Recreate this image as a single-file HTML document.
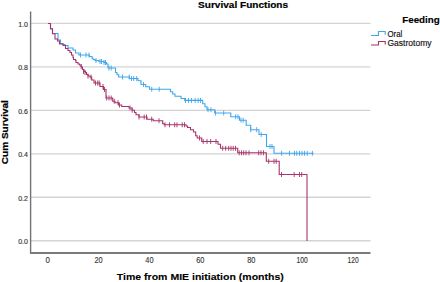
<!DOCTYPE html>
<html><head><meta charset="utf-8"><style>
html,body{margin:0;padding:0;background:#fff;width:440px;height:282px;overflow:hidden;}
svg{display:block;}
</style></head><body>
<svg width="440" height="282" viewBox="0 0 440 282"><rect width="440" height="282" fill="#fff"/><line x1="31" y1="23.4" x2="370.5" y2="23.4" stroke="#d4d4d4" stroke-width="1.4"/><line x1="31" y1="66.9" x2="370.5" y2="66.9" stroke="#d4d4d4" stroke-width="1.4"/><line x1="31" y1="110.4" x2="370.5" y2="110.4" stroke="#d4d4d4" stroke-width="1.4"/><line x1="31" y1="153.9" x2="370.5" y2="153.9" stroke="#d4d4d4" stroke-width="1.4"/><line x1="31" y1="197.3" x2="370.5" y2="197.3" stroke="#d4d4d4" stroke-width="1.4"/><line x1="31" y1="240.8" x2="370.5" y2="240.8" stroke="#d4d4d4" stroke-width="1.4"/><line x1="30.6" y1="11.5" x2="30.6" y2="254" stroke="#727272" stroke-width="1.4"/><line x1="30" y1="253" x2="370.5" y2="253" stroke="#7a7a7a" stroke-width="2"/><text x="28" y="26.85" font-family="Liberation Sans, sans-serif" font-size="7.4" fill="#333" stroke="#333" stroke-width="0.15" text-anchor="end" textLength="9.8" lengthAdjust="spacingAndGlyphs">1.0</text><text x="28" y="70.35" font-family="Liberation Sans, sans-serif" font-size="7.4" fill="#333" stroke="#333" stroke-width="0.15" text-anchor="end" textLength="9.8" lengthAdjust="spacingAndGlyphs">0.8</text><text x="28" y="113.85" font-family="Liberation Sans, sans-serif" font-size="7.4" fill="#333" stroke="#333" stroke-width="0.15" text-anchor="end" textLength="9.8" lengthAdjust="spacingAndGlyphs">0.6</text><text x="28" y="157.35" font-family="Liberation Sans, sans-serif" font-size="7.4" fill="#333" stroke="#333" stroke-width="0.15" text-anchor="end" textLength="9.8" lengthAdjust="spacingAndGlyphs">0.4</text><text x="28" y="200.75" font-family="Liberation Sans, sans-serif" font-size="7.4" fill="#333" stroke="#333" stroke-width="0.15" text-anchor="end" textLength="9.8" lengthAdjust="spacingAndGlyphs">0.2</text><text x="28" y="244.25" font-family="Liberation Sans, sans-serif" font-size="7.4" fill="#333" stroke="#333" stroke-width="0.15" text-anchor="end" textLength="9.8" lengthAdjust="spacingAndGlyphs">0.0</text><text x="47.60" y="262.9" font-family="Liberation Sans, sans-serif" font-size="8.2" fill="#333" stroke="#333" stroke-width="0.12" text-anchor="middle" textLength="4.4" lengthAdjust="spacingAndGlyphs">0</text><text x="98.52" y="262.9" font-family="Liberation Sans, sans-serif" font-size="8.2" fill="#333" stroke="#333" stroke-width="0.12" text-anchor="middle" textLength="8.2" lengthAdjust="spacingAndGlyphs">20</text><text x="149.44" y="262.9" font-family="Liberation Sans, sans-serif" font-size="8.2" fill="#333" stroke="#333" stroke-width="0.12" text-anchor="middle" textLength="8.2" lengthAdjust="spacingAndGlyphs">40</text><text x="200.36" y="262.9" font-family="Liberation Sans, sans-serif" font-size="8.2" fill="#333" stroke="#333" stroke-width="0.12" text-anchor="middle" textLength="8.2" lengthAdjust="spacingAndGlyphs">60</text><text x="251.28" y="262.9" font-family="Liberation Sans, sans-serif" font-size="8.2" fill="#333" stroke="#333" stroke-width="0.12" text-anchor="middle" textLength="8.2" lengthAdjust="spacingAndGlyphs">80</text><text x="302.20" y="262.9" font-family="Liberation Sans, sans-serif" font-size="8.2" fill="#333" stroke="#333" stroke-width="0.12" text-anchor="middle" textLength="11.2" lengthAdjust="spacingAndGlyphs">100</text><text x="353.12" y="262.9" font-family="Liberation Sans, sans-serif" font-size="8.2" fill="#333" stroke="#333" stroke-width="0.12" text-anchor="middle" textLength="11.2" lengthAdjust="spacingAndGlyphs">120</text><path d="M48,23.5 H50.5 V29 H52.5 V33.5 H58 V40 H60.5 V43.5 H63 V44.5 H65 V45.5 H68 V48 H73 V50 H75.5 V53 H79 V55 H89.5 V56.5 H92 V58 H93 V59.5 H95 V60.5 H99 V61.5 H104 V62.5 H106.5 V64 H108 V68 H115.5 V72.5 H117 V74.7 H118.7 V77 H129.5 V78.5 H138 V80.7 H141 V84.5 H145.7 V86.7 H149.5 V89.3 H170.5 V91.7 H172.7 V94 H175 V96.2 H181 V98.5 H184.7 V100.4 H202.7 V103.7 H205 V106.7 H207 V109.7 H214.7 V113 H230.8 V116.8 H239.5 V120.2 H246.2 V125.2 H250.7 V129.7 H259 V134.5 H266.5 V146.5 H274 V153.3 H313.7" fill="none" stroke="#3ea6ee" stroke-width="1.1"/><path d="M80.5,52.5 V57.5 M86,52.5 V57.5 M89,52.5 V57.5 M96,58.0 V63.0 M100,59.0 V64.0 M101.5,59.0 V64.0 M104,60.0 V65.0 M105.5,60.0 V65.0 M109,65.5 V70.5 M111.2,65.5 V70.5 M122.5,74.5 V79.5 M129.2,74.5 V79.5 M131.5,76.0 V81.0 M133.7,76.0 V81.0 M136.7,76.0 V81.0 M143.5,82.0 V87.0 M151.7,86.8 V91.8 M159.2,86.8 V91.8 M185.5,97.9 V102.9 M188.5,97.9 V102.9 M191.5,97.9 V102.9 M195.2,97.9 V102.9 M198.2,97.9 V102.9 M200.5,97.9 V102.9 M208,107.2 V112.2 M211,107.2 V112.2 M215.5,110.5 V115.5 M223.7,110.5 V115.5 M235.7,114.3 V119.3 M238,114.3 V119.3 M241,117.7 V122.7 M243.2,117.7 V122.7 M250.7,127.19999999999999 V132.2 M256.7,127.19999999999999 V132.2 M261.2,132.0 V137.0 M270,144.0 V149.0 M272,144.0 V149.0 M281.6,150.8 V155.8 M289.4,150.8 V155.8 M294.5,150.8 V155.8 M296.75,150.8 V155.8 M299.5,150.8 V155.8 M302,150.8 V155.8 M304.5,150.8 V155.8 M307.25,150.8 V155.8 M312.4,150.8 V155.8" fill="none" stroke="#3ea6ee" stroke-width="0.9"/><path d="M48,23.5 H50.5 V28.7 H52.5 V33.7 H55 V39 H57.5 V41 H59.5 V44 H63 V45.5 H65.5 V48.5 H68 V50.5 H70 V52.5 H71.5 V55 H73 V57.5 H73.5 V59.5 H75.5 V60.5 H76 V62.5 H78 V64 H79.5 V65 H81 V66.5 H82 V67.5 H82.5 V69.5 H84 V71.5 H85.5 V72.5 H86.5 V74.5 H88 V76 H90 V77 H91.7 V80 H94 V83 H100 V86.5 H103.5 V89.5 H106 V98 H112.7 V101.2 H115 V102.7 H118.7 V105 H121.7 V106.5 H129 V108 H132 V110.2 H134.5 V112.5 H136 V114.7 H139 V117 H147 V119.2 H153.2 V120.7 H162.7 V123.7 H164.2 V124.8 H186 V126 H187.5 V127.5 H190.5 V129.7 H193.5 V132 H195.7 V135.7 H197.2 V138 H201.7 V141.5 H218 V144.2 H220.5 V148.3 H237.7 V152.8 H266.3 V161.3 H279.2 V174.5 H307 V241" fill="none" stroke="#a8336a" stroke-width="1.1"/><path d="M81.2,64.0 V69.0 M83.5,69.0 V74.0 M85,70.0 V75.0 M88,73.5 V78.5 M91,74.5 V79.5 M95.5,80.5 V85.5 M97.7,80.5 V85.5 M99.2,80.5 V85.5 M103,84.0 V89.0 M104.5,87.0 V92.0 M106.7,95.5 V100.5 M109,95.5 V100.5 M111.2,95.5 V100.5 M114.2,98.7 V103.7 M118,100.2 V105.2 M119.5,102.5 V107.5 M130,105.5 V110.5 M132.2,107.7 V112.7 M139,114.5 V119.5 M144.2,114.5 V119.5 M146.5,114.5 V119.5 M151.7,116.7 V121.7 M159,118.2 V123.2 M165,122.3 V127.3 M169.5,122.3 V127.3 M174.7,122.3 V127.3 M177,122.3 V127.3 M182.2,122.3 V127.3 M184.5,122.3 V127.3 M199.5,135.5 V140.5 M203.2,139.0 V144.0 M207,139.0 V144.0 M210.7,139.0 V144.0 M216,139.0 V144.0 M222.7,145.8 V150.8 M225.7,145.8 V150.8 M228.7,145.8 V150.8 M231,145.8 V150.8 M233.2,145.8 V150.8 M235.5,145.8 V150.8 M239.2,150.3 V155.3 M241.5,150.3 V155.3 M243.7,150.3 V155.3 M246,150.3 V155.3 M249,150.3 V155.3 M258.7,150.3 V155.3 M261,150.3 V155.3 M263.5,150.3 V155.3 M268.7,158.8 V163.8 M274,158.8 V163.8 M276.2,158.8 V163.8 M281.5,172.0 V177.0 M294.2,172.0 V177.0 M299.5,172.0 V177.0 M301.7,172.0 V177.0" fill="none" stroke="#a8336a" stroke-width="0.9"/><text x="243.1" y="8.1" font-family="Liberation Sans, sans-serif" font-size="9.8" font-weight="bold" fill="#000" stroke="#000" stroke-width="0.2" text-anchor="middle" textLength="90" lengthAdjust="spacingAndGlyphs">Survival Functions</text><text x="0" y="0" transform="translate(8.1,132.15) rotate(-90)" font-family="Liberation Sans, sans-serif" font-size="9.6" font-weight="bold" fill="#000" stroke="#000" stroke-width="0.2" text-anchor="middle" textLength="64" lengthAdjust="spacingAndGlyphs">Cum Survival</text><text x="200.3" y="279.9" font-family="Liberation Sans, sans-serif" font-size="9.6" font-weight="bold" fill="#000" stroke="#000" stroke-width="0.1" text-anchor="middle" textLength="167" lengthAdjust="spacingAndGlyphs">Time from MIE initiation (months)</text><text x="402.2" y="23.4" font-family="Liberation Sans, sans-serif" font-size="9.6" font-weight="bold" fill="#000" stroke="#000" stroke-width="0.15" textLength="37.6" lengthAdjust="spacingAndGlyphs">Feeding</text><path d="M371,35.5 H378.5 V31.5 H385.2 V34.8" fill="none" stroke="#3ea6ee" stroke-width="1.1"/><path d="M371,45 H378.5 V41.5 H385.2 V44.5" fill="none" stroke="#a8336a" stroke-width="1.1"/><text x="387.5" y="36.75" font-family="Liberation Sans, sans-serif" font-size="8.4" fill="#111" stroke="#111" stroke-width="0.15" textLength="14.8" lengthAdjust="spacingAndGlyphs">Oral</text><text x="387.5" y="46.4" font-family="Liberation Sans, sans-serif" font-size="8.5" fill="#111" stroke="#111" stroke-width="0.15" textLength="44" lengthAdjust="spacingAndGlyphs">Gastrotomy</text></svg>
</body></html>
